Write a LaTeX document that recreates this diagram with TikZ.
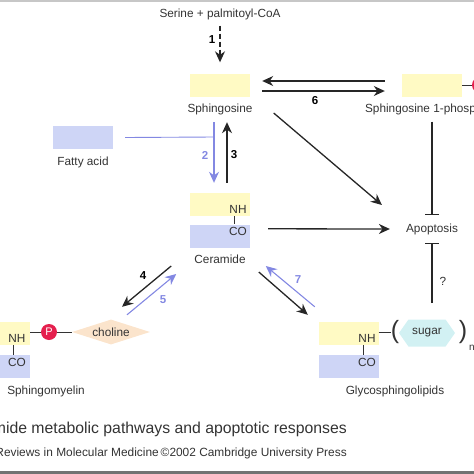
\documentclass[tikz,border=0pt]{standalone}
\usepackage{fontspec}
\setmainfont{Liberation Sans}
\usetikzlibrary{shapes,arrows.meta}
\definecolor{lipyel}{HTML}{FFFAC4}
\definecolor{lipblu}{HTML}{CED5F6}
\definecolor{pathblu}{HTML}{8388E2}
\definecolor{phosred}{HTML}{E5204E}
\definecolor{cholpeach}{HTML}{FBE4CC}
\definecolor{sugcyan}{HTML}{D2F1F3}
\definecolor{txtgrey}{HTML}{333333}

\begin{document}
\begin{tikzpicture}[x=1pt,y=-1pt]
        \tikzstyle{yel}=[rectangle,fill=lipyel,minimum width=60pt,minimum height=23pt,inner sep=0pt]
        \tikzstyle{blu}=[yel,fill=lipblu]
        \tikzstyle{lbl}=[text=txtgrey,font=\fontsize{11.8}{14}\selectfont,inner sep=1pt]
        \tikzstyle{num}=[font=\fontsize{11.5}{13}\selectfont\bfseries,inner sep=0pt]
        \tikzstyle{rxn}=[line width=1.3pt,draw=black!85,-{Stealth[length=11pt,width=10pt]}]
        \tikzstyle{brxn}=[rxn,draw=pathblu,line width=1.1pt]
        \tikzstyle{inh}=[line width=1.3pt,draw=black!85,-{Bar[width=14pt,line width=1.3pt]}]
        \tikzstyle{bond}=[line width=0.9pt,draw=black!80]

        \useasboundingbox (0,0) rectangle (474,474);
        \clip (0,0) rectangle (474,474);
        \fill[black!22] (0,0) rectangle (474,2);
        \fill[black!55] (0,471) rectangle (474,474);

        % top row
        \node[lbl] (ser) at (220,14) {Serine + palmitoyl-CoA};
        \node[yel] (sph) at (220,85) {};
        \node[lbl] (sphl) at (220,109) {Sphingosine};
        \node[yel] (sop) at (432,85) {};
        \node[lbl] (sopl) at (432,109) {Sphingosine 1-phosphate};
        \node[circle,fill=phosred,minimum size=16pt,inner sep=0pt] (sopp) at (480,85) {};
        \draw[bond] (sop) -- (sopp);
        \node[blu] (fa) at (83,137.5) {};
        \node[lbl] (fal) at (83,162) {Fatty acid};

        % ceramide
        \node[yel] (cery) at (220,204) {};
        \node[blu] (cerb) at (220,236) {};
        \node[lbl] (cernh) at (238,209) {NH};
        \node[lbl] (cerco) at (238,231) {CO};
        \draw[bond,shorten <=2pt,shorten >=2pt] ([xshift=-4pt]cernh.south) -- ([xshift=-4pt]cerco.north);
        \node[lbl] (cerl) at (220,259) {Ceramide};
        \node[lbl] (apo) at (432,229) {Apoptosis};

        % sphingomyelin
        \node[yel] (smy) at (0,333.5) {};
        \node[blu] (smb) at (0,366) {};
        \node[lbl] (smnh) at (17,338) {NH};
        \node[lbl] (smco) at (17,362) {CO};
        \draw[bond,shorten <=2pt,shorten >=2pt] ([xshift=-4pt]smnh.south) -- ([xshift=-4pt]smco.north);
        \node[circle,fill=phosred,text=white,font=\fontsize{11}{12}\selectfont,minimum size=16pt,inner sep=0pt] (smp) at (49,332) {P};
        \node[diamond,aspect=3,fill=cholpeach,text=txtgrey,font=\fontsize{11.8}{14}\selectfont,minimum width=78pt,minimum height=25pt,inner sep=0pt] (chol) at (111,332) {choline};
        \draw[bond] ([yshift=1.5pt]smy.east) -- (smp);
        \draw[bond] (smp) -- (chol);
        \node[lbl] (sml) at (46,391) {Sphingomyelin};

        % glycosphingolipids
        \node[yel] (gly) at (348.5,333.5) {};
        \node[blu] (glb) at (348.5,366) {};
        \node[lbl] (glnh) at (367,338) {NH};
        \node[lbl] (glco) at (367,362) {CO};
        \draw[bond,shorten <=2pt,shorten >=2pt] ([xshift=-4pt]glnh.south) -- ([xshift=-4pt]glco.north);
        \node[text=txtgrey,font=\fontsize{25}{25}\selectfont,inner sep=0pt] (lpar) at (395,332) {(};
        \node[signal,signal to=west and east,signal pointer angle=110,fill=sugcyan,text=txtgrey,font=\fontsize{11.8}{14}\selectfont,minimum width=56pt,minimum height=27pt,inner sep=0pt] (sug) at (427,333) {sugar};
        \node[text=txtgrey,font=\fontsize{25}{25}\selectfont,inner sep=0pt] (rpar) at (463,332) {)};
        \node[text=txtgrey,font=\fontsize{10}{12}\selectfont,inner sep=0pt] (subn) at (472,348) {n};
        \draw[bond] ([yshift=1.5pt]gly.east) -- (lpar.west);
        \node[lbl] (glyl) at (395,391) {Glycosphingolipids};

        % reactions
        \draw[rxn,dash pattern=on 5pt off 3pt,shorten <=5pt,shorten >=11pt] (ser.south) -- (sph.north);
        \node[num] at (212,40) {1};
        \draw[rxn] ([xshift=-17pt,yshift=4pt]sop.west) -- ([xshift=12pt,yshift=4pt]sph.east);
        \draw[rxn] ([xshift=12pt,yshift=-6pt]sph.east) -- ([xshift=-17pt,yshift=-6pt]sop.west);
        \node[num] at (315,101) {6};
        \coordinate (faj) at (214,137);
        \draw[bond,draw=pathblu] ([xshift=12pt]fa.east) -- (faj);
        \draw[brxn] ([xshift=-6pt,yshift=-6.5pt]sphl.south) -- ([xshift=-6pt,yshift=9.5pt]cery.north);
        \node[num,text=pathblu] at (205,155) {2};
        \draw[rxn] ([xshift=7pt,yshift=9.5pt]cery.north) -- ([xshift=7pt,yshift=-6.5pt]sphl.south);
        \node[num] at (234,155) {3};
        \draw[rxn] ([xshift=20pt,yshift=-4pt]sphl.east) -- ([xshift=-23pt,yshift=24pt]apo.west);
        \draw[rxn] ([xshift=18pt,yshift=-4.5pt]cerb.north east) -- ([xshift=-15pt]apo.west);
        \draw[inh,shorten <=6pt,shorten >=7pt] (sopl.south) -- (apo.north);
        \coordinate (qbot) at (432,303);
        \draw[inh,shorten >=7pt] (qbot) -- (apo.south);
        \node[lbl] at (443,281) {?};
        \draw[rxn] ([xshift=-22pt,yshift=-7pt]cerl.west) -- ([xshift=11pt,yshift=12.5pt]chol.north);
        \node[num] at (143,276) {4};
        \draw[brxn] ([xshift=16pt,yshift=4.5pt]chol.north) -- ([xshift=-17pt,yshift=-15pt]cerl.west);
        \node[num,text=pathblu] at (163,300) {5};
        \draw[rxn] ([xshift=12pt,yshift=-13pt]cerl.east) -- ([xshift=-10.5pt,yshift=7pt]gly.north west);
        \draw[brxn] ([xshift=-3.5pt,yshift=15pt]gly.north west) -- ([xshift=19pt,yshift=-7pt]cerl.east);
        \node[num,text=pathblu] at (298,280) {7};

        % caption
        \node[anchor=east,text=txtgrey,font=\fontsize{15.8}{18}\selectfont,inner sep=0pt] (capa) at (347,429) {Ceramide metabolic pathways and apoptotic responses};
        \node[anchor=east,text=txtgrey,font=\fontsize{11.9}{14}\selectfont,inner sep=0pt] (capb) at (347,453) {Expert Reviews in Molecular Medicine\,©2002 Cambridge University Press};
\end{tikzpicture}
\end{document}
